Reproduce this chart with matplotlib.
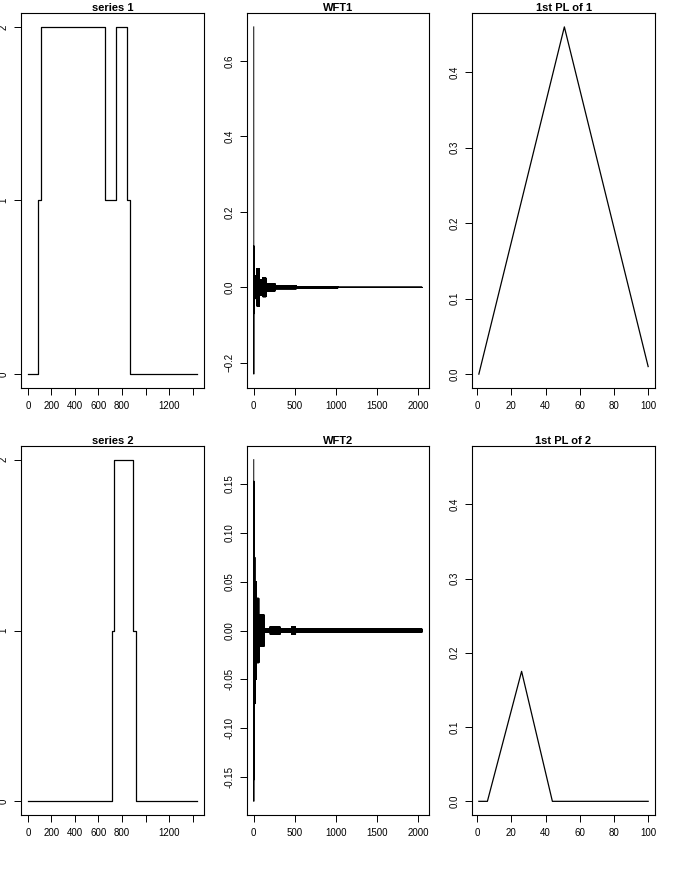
import numpy as np
import matplotlib.pyplot as plt

# step series: (start, end, level)
s1_steps = [(0, 85, 0), (85, 110, 1), (110, 655, 2), (655, 749, 1), (749, 843, 2), (843, 868, 1), (868, 1438, 0)]
s2_steps = [(0, 715, 0), (715, 732, 1), (732, 894, 2), (894, 919, 1), (919, 1438, 0)]

# wavelet coefficient blocks: (start index, end index, amplitude), signs alternate
wft1_first = [0.69, -0.23, 0.11, -0.07, 0.03, -0.06]
wft1_blocks = [(7, 40, 0.03), (40, 70, 0.05), (70, 110, 0.02), (110, 150, 0.025), (150, 260, 0.01),
               (260, 520, 0.004), (520, 1024, 0.002), (1024, 2048, 0.0003)]
wft2_first = [0.175, -0.175, 0.153, -0.153]
wft2_blocks = [(5, 16, 0.075), (16, 32, 0.05), (32, 64, 0.033), (64, 128, 0.016), (128, 200, 0.002),
               (200, 320, 0.004), (320, 460, 0.002), (460, 510, 0.004), (510, 2048, 0.0015)]

pl1_x = [1, 51, 100]
pl1_y = [0.0, 0.46, 0.01]
pl2_x = [1, 6, 26, 44, 100]
pl2_y = [0.0, 0.0, 0.175, 0.0, 0.0]


def step_xy(steps):
    xs, ys = [], []
    for a, b, v in steps:
        xs += [a, b]
        ys += [v, v]
    return xs, ys


def wft_series(first, blocks):
    vals = list(first)
    for a, b, amp in blocks:
        for i in range(a, b):
            vals.append(amp if i % 2 == 0 else -amp)
    return np.arange(1, len(vals) + 1), np.array(vals)


W, H = 676, 872
fig = plt.figure(figsize=(W / 100, H / 100), dpi=100)
plt.rcParams['font.family'] = ['Liberation Sans', 'DejaVu Sans']


def ax_px(x0, y0, x1, y1):
    return fig.add_axes([x0 / W, 1 - y1 / H, (x1 - x0) / W, (y1 - y0) / H])


cols = [(21, 204), (247, 429), (472, 655)]
rows = [(13, 388), (446, 815)]


def style(ax, title):
    ax.set_title(title, fontsize=8, fontweight='bold', pad=0.5)
    ax.tick_params(labelsize=7, length=5, width=0.7, direction='out', pad=4)
    for lab in ax.get_yticklabels():
        lab.set_rotation(90)
        lab.set_va('center')
    for s in ax.spines.values():
        s.set_linewidth(0.8)


for r, (ssteps, wf, wb, plx, ply, n) in enumerate([
        (s1_steps, wft1_first, wft1_blocks, pl1_x, pl1_y, 1),
        (s2_steps, wft2_first, wft2_blocks, pl2_x, pl2_y, 2)]):
    y0, y1 = rows[r]
    ax = ax_px(cols[0][0], y0, cols[0][1], y1)
    x, y = step_xy(ssteps)
    ax.plot(x, y, color='black', lw=0.9)
    ax.set_xlim(-58, 1496)
    ax.set_ylim(-0.08, 2.08)
    ax.set_xticks([0, 200, 400, 600, 800, 1000, 1200, 1400])
    ax.set_xticklabels(['0', '200', '400', '600', '800', '', '1200', ''])
    ax.set_yticks([0, 1, 2])
    style(ax, 'series %d' % n)

    ax = ax_px(cols[1][0], y0, cols[1][1], y1)
    x, y = wft_series(wf, wb)
    ax.plot(x, y, color='black', lw=0.7)
    lo, hi = y.min(), y.max()
    pad = (hi - lo) * 0.04
    ax.set_ylim(lo - pad, hi + pad)
    ax.set_xlim(1 - 82, 2048 + 82)
    ax.set_xticks([0, 500, 1000, 1500, 2000])
    if n == 1:
        ax.set_yticks([-0.2, 0.0, 0.2, 0.4, 0.6])
    else:
        ax.set_yticks([-0.15, -0.10, -0.05, 0.0, 0.05, 0.10, 0.15])
        ax.set_yticklabels(['-0.15', '-0.10', '-0.05', '0.00', '0.05', '0.10', '0.15'])
    style(ax, 'WFT%d' % n)

    ax = ax_px(cols[2][0], y0, cols[2][1], y1)
    ax.plot(plx, ply, color='black', lw=0.9)
    ax.set_xlim(1 - 4, 100 + 4)
    ax.set_ylim(-0.0184, 0.4784)
    ax.set_xticks([0, 20, 40, 60, 80, 100])
    ax.set_yticks([0, 0.1, 0.2, 0.3, 0.4])
    style(ax, '1st PL of %d' % n)

fig.savefig('out.png', dpi=100)
